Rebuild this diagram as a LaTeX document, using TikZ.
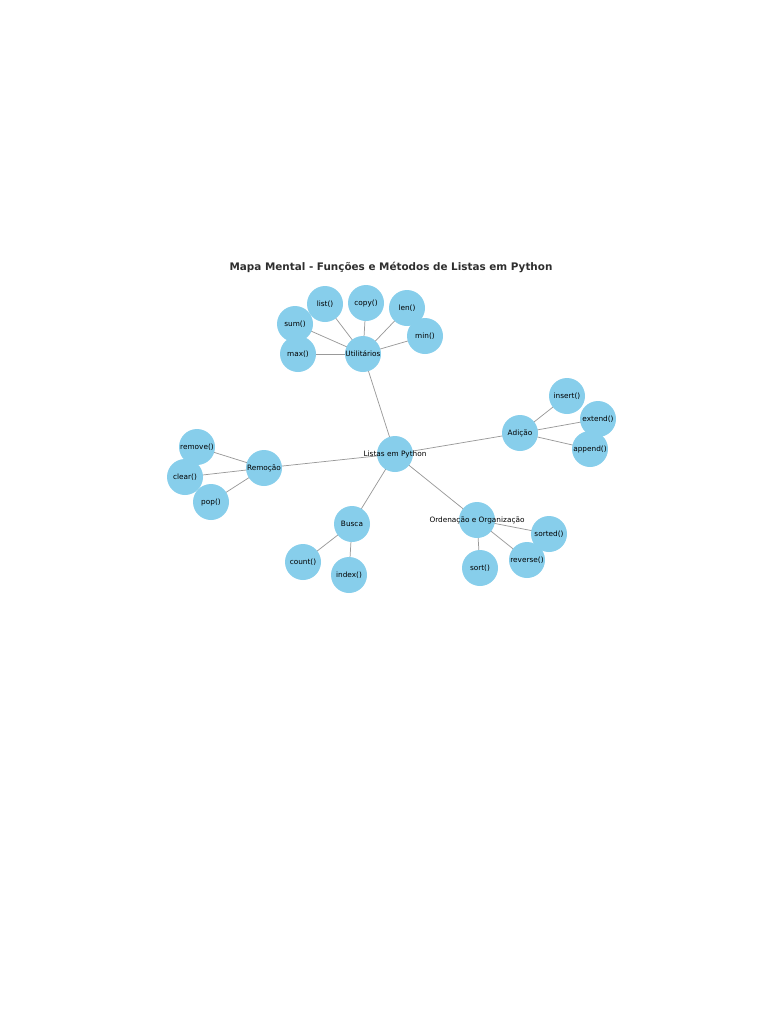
\documentclass[tikz,border=0pt]{standalone}
\usepackage{fontspec}
\setmainfont{DejaVu Sans}
\usepackage{tikz}
\usetikzlibrary{backgrounds}
\definecolor{skyblue}{HTML}{87CEEB}

\begin{document}
\begin{tikzpicture}[x=0.75pt,y=-0.75pt,
	topic/.style={circle, fill=skyblue, minimum size=27pt, inner sep=0pt, font=\fontsize{5.5}{6}\selectfont},
    link/.style={draw=gray!80, line width=0.55pt}]

    \useasboundingbox (0,0) rectangle (768,1024);

    \node (title) at (391,267) {\fontsize{7.8}{9}\selectfont\bfseries\color{black!82}Mapa Mental - Funções e Métodos de Listas em Python};

    \node[topic] (root) at (395,454) {\makebox[0pt]{Listas em Python}};

    % Utilitarios
    \node[topic] (util) at (363,354) {\makebox[0pt]{Utilitários}};
    \node[topic] (list) at (325,304) {\makebox[0pt]{list()}};
    \node[topic] (copy) at (366,303) {\makebox[0pt]{copy()}};
    \node[topic] (len) at (407,308) {\makebox[0pt]{len()}};
    \node[topic] (min) at (425,336) {\makebox[0pt]{min()}};
    \node[topic] (sum) at (295,324) {\makebox[0pt]{sum()}};
    \node[topic] (max) at (298,354) {\makebox[0pt]{max()}};

    % Adicao
    \node[topic] (add) at (520,433) {\makebox[0pt]{Adição}};
    \node[topic] (insert) at (567,396) {\makebox[0pt]{insert()}};
    \node[topic] (extend) at (598,419) {\makebox[0pt]{extend()}};
    \node[topic] (append) at (590,449) {\makebox[0pt]{append()}};

    % Remocao
    \node[topic] (rem) at (264,468) {\makebox[0pt]{Remoção}};
    \node[topic] (remove) at (197,447) {\makebox[0pt]{remove()}};
    \node[topic] (clear) at (185,477) {\makebox[0pt]{clear()}};
    \node[topic] (pop) at (211,502) {\makebox[0pt]{pop()}};

    % Busca
    \node[topic] (busca) at (352,524) {\makebox[0pt]{Busca}};
    \node[topic] (count) at (303,562) {\makebox[0pt]{count()}};
    \node[topic] (index) at (349,575) {\makebox[0pt]{index()}};

    % Ordenacao
    \node[topic] (ord) at (477,520) {\makebox[0pt]{Ordenação e Organização}};
    \node[topic] (sorted) at (549,534) {\makebox[0pt]{sorted()}};
    \node[topic] (reverse) at (527,560) {\makebox[0pt]{reverse()}};
    \node[topic] (sort) at (480,568) {\makebox[0pt]{sort()}};

    \begin{pgfonlayer}{background}
    \draw[link] (root.center) -- (util.center)
       (root.center) -- (add.center)
       (root.center) -- (rem.center)
       (root.center) -- (busca.center)
       (root.center) -- (ord.center);
    \foreach \m in {list,copy,len,min,sum,max}
       \draw[link] (util.center) -- (\m.center);
    \foreach \m in {insert,extend,append}
       \draw[link] (add.center) -- (\m.center);
    \foreach \m in {remove,clear,pop}
       \draw[link] (rem.center) -- (\m.center);
    \foreach \m in {count,index}
       \draw[link] (busca.center) -- (\m.center);
    \foreach \m in {sorted,reverse,sort}
       \draw[link] (ord.center) -- (\m.center);
    \end{pgfonlayer}

\end{tikzpicture}
\end{document}
